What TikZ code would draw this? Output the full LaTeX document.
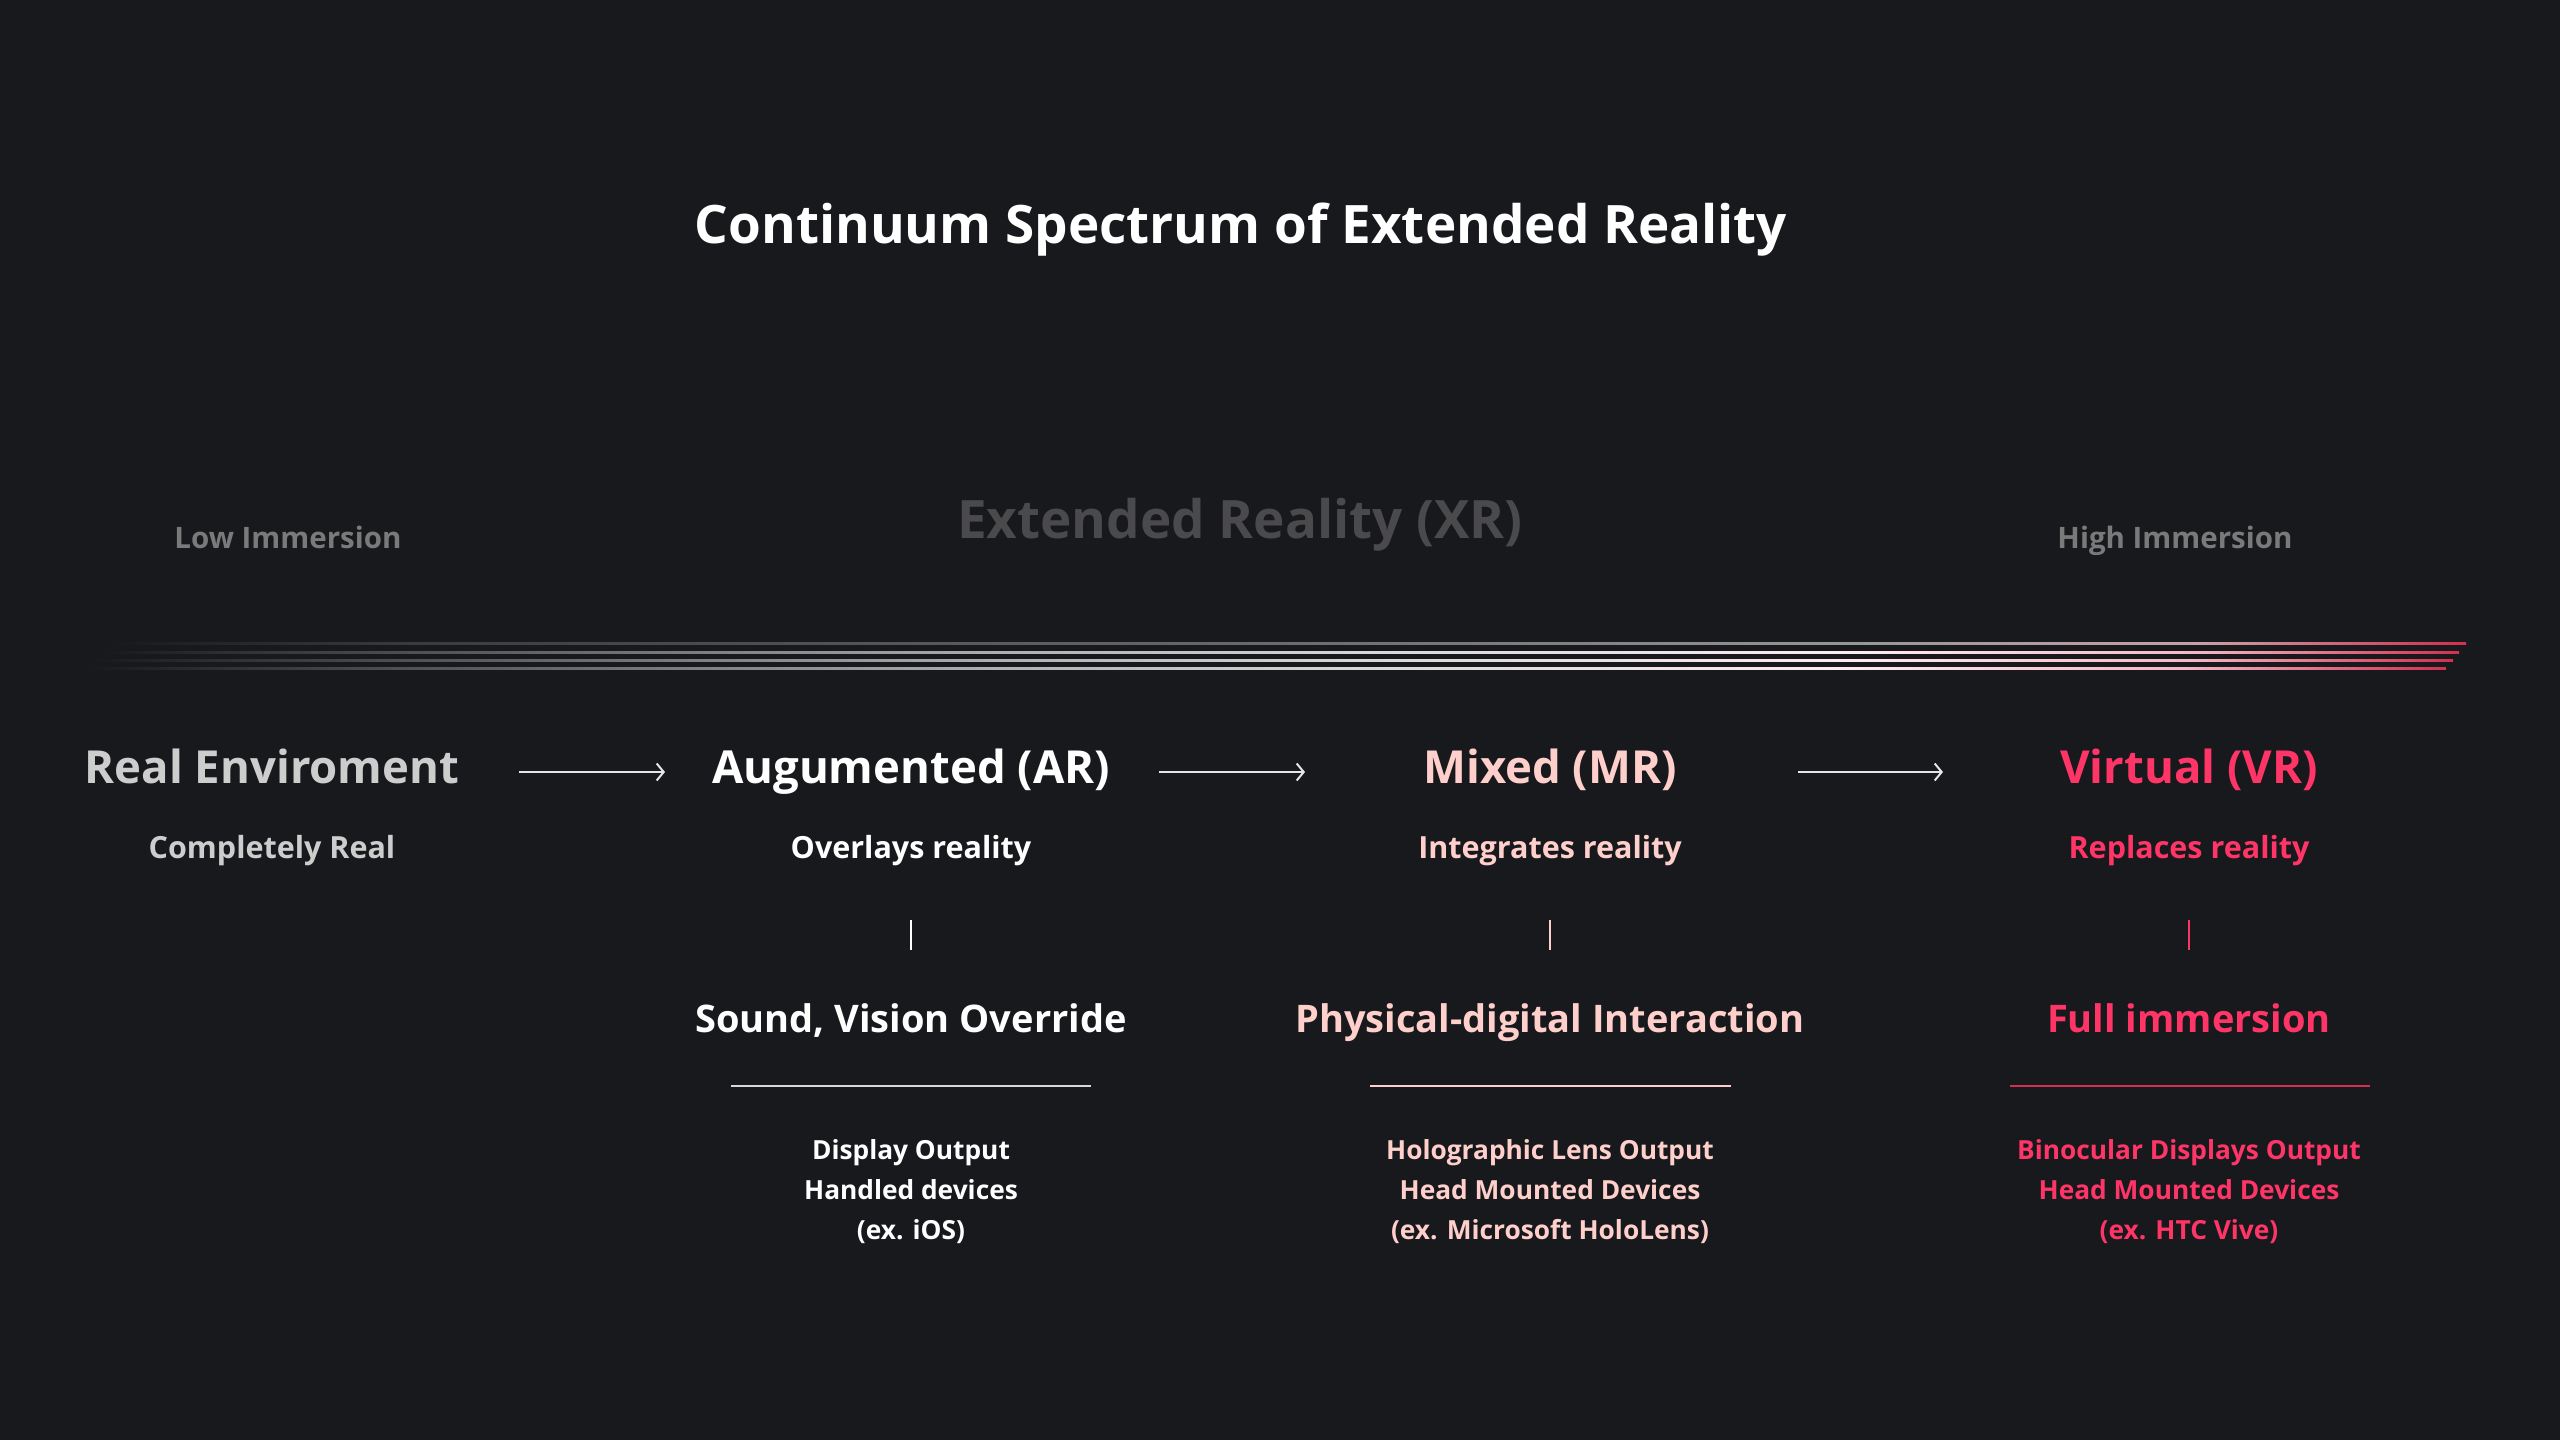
\documentclass[tikz,border=0pt]{standalone}
\usepackage{fontspec}
\setmainfont{Open Sans}
\usetikzlibrary{arrows.meta}
\definecolor{bgc}{HTML}{18191D}
\definecolor{titlec}{HTML}{FFFFFF}
\definecolor{xrgray}{HTML}{4A4A4C}
\definecolor{immgray}{HTML}{7A7A7A}
\definecolor{realc}{HTML}{CDCDCD}
\definecolor{arc}{HTML}{FFFFFF}
\definecolor{arrule}{HTML}{D8D8D8}
\definecolor{mrc}{HTML}{FFD0CB}
\definecolor{vrc}{HTML}{FF3567}
\definecolor{vrrule}{HTML}{D2304F}
\definecolor{arrowc}{HTML}{E6E6E6}
\definecolor{dimpink}{HTML}{C8A0A8}
\definecolor{lpink}{HTML}{F4B8C4}
\pgfdeclarehorizontalshading{xrbright}{100bp}{color(0bp)=(bgc); color(26bp)=(bgc); color(32.5bp)=(bgc!76!white); color(45bp)=(bgc!34!white); color(52.5bp)=(bgc!17!white); color(62.5bp)=(white!90!vrc); color(69.5bp)=(lpink); color(75bp)=(vrrule); color(100bp)=(vrrule)}
\pgfdeclarehorizontalshading{xrdim}{100bp}{color(0bp)=(bgc); color(26bp)=(bgc); color(32.5bp)=(bgc!85!white); color(50bp)=(bgc!65!white); color(62.5bp)=(bgc!45!white); color(69.5bp)=(dimpink); color(75bp)=(vrrule); color(100bp)=(vrrule)}
\tikzset{
  txt/.style={anchor=base, inner sep=0pt, font=\bfseries},
  ttl/.style={txt, text=titlec, font=\bfseries\fontsize{53}{64}\selectfont},
  xrlbl/.style={txt, text=xrgray, font=\bfseries\fontsize{53}{64}\selectfont},
  imm/.style={txt, text=immgray, font=\bfseries\fontsize{29.5}{36}\selectfont},
  head/.style={txt, font=\bfseries\fontsize{45.5}{56}\selectfont},
  subl/.style={txt, font=\bfseries\fontsize{30.5}{38}\selectfont},
  head2/.style={txt, font=\bfseries\fontsize{38}{46}\selectfont},
  detail/.style={anchor=base, inner sep=0pt, align=center, font=\bfseries\fontsize{26.3}{40}\selectfont},
  conn/.style={draw=arrowc, line width=2pt, -{Straight Barb[length=7pt,width=17pt,line width=2pt]}},
  tick/.style={line width=1.6pt},
  rulel/.style={line width=2pt}
}
\begin{document}
\begin{tikzpicture}[x=1pt,y=-1pt]
\fill[bgc] (0,0) rectangle (2560,1440);
\useasboundingbox (0,0) rectangle (2560,1440);

% title and spectrum labels
\node[ttl] (title) at (1241,243) {Continuum Spectrum of Extended Reality};
\node[xrlbl] (xr) at (1240,538) {Extended Reality (XR)};
\node[imm] (low) at (288,548) {Low Immersion};
\node[imm] (high) at (2175,548) {High Immersion};

% spectrum lines
\shade[shading=xrdim] (60,642) rectangle (2466,644.5);
\shade[shading=xrbright] (55,651) rectangle (2459,653.5);
\shade[shading=xrbright] (45,659) rectangle (2453,661.5);
\shade[shading=xrbright] (40,667) rectangle (2446,669.5);

% main headings
\node[head, text=realc] (real) at (272,783) {Real Enviroment};
\node[head, text=arc] (ar) at (911,783) {Augumented (AR)};
\node[head, text=mrc] (mr) at (1550,783) {Mixed (MR)};
\node[head, text=vrc] (vr) at (2189,783) {Virtual (VR)};

\node[subl, text=realc] (realsub) at (272,858) {Completely Real};
\node[subl, text=arc] (arsub) at (911,858) {Overlays reality};
\node[subl, text=mrc] (mrsub) at (1550,858) {Integrates reality};
\node[subl, text=vrc] (vrsub) at (2189,858) {Replaces reality};

% arrows
\coordinate (a1s) at (519,772); \coordinate (a1e) at (665,772);
\coordinate (a2s) at (1159,772); \coordinate (a2e) at (1305,772);
\coordinate (a3s) at (1798,772); \coordinate (a3e) at (1943,772);
\draw[conn] (a1s) -- (a1e);
\draw[conn] (a2s) -- (a2e);
\draw[conn] (a3s) -- (a3e);

% ticks
\coordinate (t1a) at (911,920); \coordinate (t1b) at (911,950);
\coordinate (t2a) at (1550,920); \coordinate (t2b) at (1550,950);
\coordinate (t3a) at (2189,920); \coordinate (t3b) at (2189,950);
\draw[tick, draw=arc] (t1a) -- (t1b);
\draw[tick, draw=mrc] (t2a) -- (t2b);
\draw[tick, draw=vrc] (t3a) -- (t3b);

% second headings
\node[head2, text=arc] (arh) at (911,1032) {Sound, Vision Override};
\node[head2, text=mrc] (mrh) at (1550,1032) {Physical-digital Interaction};
\node[head2, text=vrc] (vrh) at (2189,1032) {Full immersion};

% rules
\coordinate (r1a) at (731,1086); \coordinate (r1b) at (1091,1086);
\coordinate (r2a) at (1370,1086); \coordinate (r2b) at (1731,1086);
\coordinate (r3a) at (2010,1086); \coordinate (r3b) at (2370,1086);
\draw[rulel, draw=arrule] (r1a) -- (r1b);
\draw[rulel, draw=mrc] (r2a) -- (r2b);
\draw[rulel, draw=vrrule] (r3a) -- (r3b);

% details (base anchor = last line)
\node[detail, text=arc] (ard) at (911,1239) {Display Output\\Handled devices\\(ex. iOS)};
\node[detail, text=mrc] (mrd) at (1550,1239) {Holographic Lens Output\\Head Mounted Devices\\(ex. Microsoft HoloLens)};
\node[detail, text=vrc] (vrd) at (2189,1239) {Binocular Displays Output\\Head Mounted Devices\\(ex. HTC Vive)};
\end{tikzpicture}
\end{document}
